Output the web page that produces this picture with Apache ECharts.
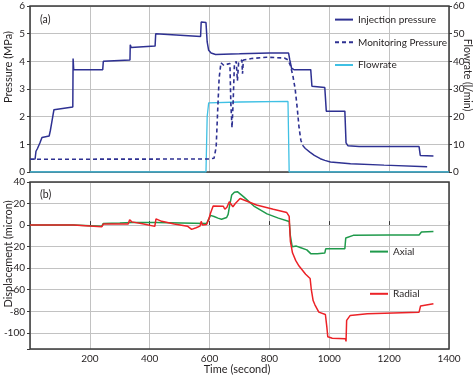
<!DOCTYPE html>
<html>
<head>
<meta charset="utf-8">
<script src="https://cdn.jsdelivr.net/npm/echarts@6/dist/echarts.min.js"></script>
<style>
  html, body { margin: 0; padding: 0; background: #fff; }
  #chart { width: 474px; height: 376px; }
</style>
</head>
<body>
<div id="chart"></div>
<script>
// time in seconds, value
var injection = [[0,0.46],[17,0.47],[20,0.75],[25,0.85],[33,1.05],[40,1.25],[45,1.3],[64,1.3],[68,1.5],[72,1.75],[76,2.0],[80,2.25],
  [143,2.35],[144,4.1],[146,3.7],[243,3.7],[245,4.0],[334,4.05],[335,4.6],[338,4.5],[418,4.55],[420,5.0],[570,4.9],[572,5.42],
  [588,5.4],[592,4.7],[597,4.4],[605,4.3],[620,4.25],[700,4.27],[800,4.3],[864,4.3],[868,4.05],[874,3.75],[882,3.7],[938,3.7],
  [942,3.1],[985,3.05],[990,2.2],[1052,2.2],[1056,1.05],[1062,0.95],[1100,0.92],[1300,0.92],[1304,0.6],[1348,0.58]];

var monitoring = [[0,0.46],[600,0.47],[615,0.5],[622,0.9],[627,2.2],[632,3.4],[638,3.95],[644,4.0],[648,3.85],[660,3.9],[668,3.92],
  [671,2.5],[675,1.6],[679,2.6],[683,3.9],[689,4.0],[693,3.3],[697,3.95],[708,4.05],[710,3.55],[713,4.05],[740,4.1],[790,4.15],
  [850,4.12],[862,4.05],[870,3.85],[878,3.5],[886,3.0],[893,2.3],[899,1.6],[905,1.15],[912,0.95]];

var monitoringTail = [[912,0.95],[920,0.85],[935,0.72],[950,0.6],[970,0.48],[985,0.42],[1004,0.36],[1071,0.3],[1183,0.25],[1327,0.19]];

var flowrate = [[0,0],[588,0],[592,20],[597,25],[700,25.3],[862,25.5],[866,0],[1400,0]];

var axial = [[0,0],[145,0],[147,-1],[240,-1],[245,1.5],[300,2],[340,2.5],[420,2.5],[425,1.5],[590,1.5],[598,6],[603,9],[615,8],
  [628,6.5],[640,5.5],[657,7],[662,10],[667,18],[674,28],[683,30.5],[693,31],[700,29.5],[715,26],[748,17.7],[792,10.4],[830,6.5],
  [866,3.3],[870,-10],[876,-20],[890,-19.5],[905,-21],[925,-23],[938,-26.5],[960,-26.5],[985,-26],[988,-22],[1052,-22],[1055,-12],
  [1060,-10.5],[1080,-9.5],[1200,-9.3],[1300,-9.2],[1308,-6.5],[1348,-6]];

var radial = [[0,0],[145,0],[147,-1.2],[240,-1.5],[245,1],[328,1],[333,5],[340,3],[380,1],[417,-1.2],[421,5.8],[440,3.5],[482,1],
  [526,-1],[540,-4],[555,-2.5],[568,-1],[572,3.5],[576,0],[590,0.6],[598,6],[603,11],[612,17.7],[646,17.5],[651,14.7],[658,16.5],
  [666,21.7],[671,23],[678,17],[686,20],[702,24.7],[757,18.6],[813,14.7],[858,11.6],[866,8],[870,-15],[877,-25.7],[888,-33],
  [899,-38],[921,-45.6],[936,-49.6],[940,-60],[946,-70],[952,-74],[965,-80.8],[987,-83],[992,-95],[995,-103.7],[1010,-105],
  [1054,-105.5],[1056,-108],[1058,-88.4],[1070,-83.8],[1127,-82.3],[1300,-80.8],[1305,-75],[1348,-73]];

var font = 'Lato, "Open Sans", sans-serif';
var navy = '#2e3192';
var gridColor = '#c2c2c2';

var axisText = { color: '#231f20', fontSize: 10, fontFamily: font };

var option = {
  animation: false,
  grid: [
    { left: 30, top: 6, width: 419, height: 166, show: true, borderColor: '#3a3a3a', borderWidth: 1.5, backgroundColor: 'transparent', z: 1 },
    { left: 30, top: 182, width: 419, height: 167, show: true, borderColor: '#3a3a3a', borderWidth: 1.5, backgroundColor: 'transparent', z: 1 }
  ],
  legend: [{
    orient: 'vertical',
    left: 334,
    top: 14,
    padding: 0,
    itemWidth: 18,
    itemHeight: 14,
    itemGap: 11.5,
    itemStyle: { opacity: 0 },
    data: ['Injection pressure', 'Monitoring Pressure', 'Flowrate'],
    textStyle: { color: '#231f20', fontSize: 10, fontFamily: font }
  }, {
    orient: 'vertical',
    left: 369,
    top: 246,
    padding: 0,
    itemWidth: 18,
    itemHeight: 14,
    itemGap: 31,
    itemStyle: { opacity: 0 },
    data: ['Axial', 'Radial'],
    textStyle: { color: '#231f20', fontSize: 10, fontFamily: font }
  }],
  xAxis: [{
    gridIndex: 0,
    type: 'value',
    min: 0, max: 1400, interval: 200,
    axisLine: { show: false },
    axisTick: { show: false },
    axisLabel: { show: false },
    splitLine: { lineStyle: { color: gridColor } }
  }, {
    gridIndex: 1,
    type: 'value',
    min: 0, max: 1400, interval: 200,
    axisLine: { show: false },
    axisTick: { inside: true, length: 4, lineStyle: { color: '#3a3a3a' } },
    axisLabel: Object.assign({ margin: 5, formatter: function (v) { return v === 0 ? '' : v; } }, axisText),
    splitLine: { lineStyle: { color: gridColor } }
  }],
  yAxis: [{
    gridIndex: 0,
    type: 'value',
    min: 0, max: 6, interval: 1,
    axisLine: { show: false },
    axisTick: { show: true, length: 3, lineStyle: { color: '#3a3a3a' } },
    axisLabel: Object.assign({ margin: 5 }, axisText),
    splitLine: { lineStyle: { color: gridColor } }
  }, {
    gridIndex: 0,
    type: 'value',
    position: 'right',
    min: 0, max: 60, interval: 10,
    axisLine: { show: false },
    axisTick: { show: true, length: 3, lineStyle: { color: '#3a3a3a' } },
    axisLabel: Object.assign({ margin: 4 }, axisText),
    splitLine: { show: false }
  }, {
    gridIndex: 1,
    type: 'value',
    min: -115, max: 40, splitNumber: 8,
    axisLine: { show: false },
    axisTick: { show: true, length: 3, lineStyle: { color: '#3a3a3a' } },
    axisLabel: Object.assign({ margin: 5, formatter: function (v) { return v % 20 === 0 ? v : ''; } }, axisText),
    splitLine: { lineStyle: { color: gridColor } }
  }],
  graphic: [
    { type: 'text', left: 40, top: 14, style: { text: '(a)', fontSize: 10.5, fontFamily: font, fill: '#231f20' } },
    { type: 'text', left: 40, top: 189, style: { text: '(b)', fontSize: 10.5, fontFamily: font, fill: '#231f20' } },
    { type: 'text', x: 8, y: 67, rotation: Math.PI / 2, style: { text: 'Pressure (MPa)', align: 'center', verticalAlign: 'middle', fontSize: 11, fontFamily: font, fill: '#231f20' } },
    { type: 'text', x: 8, y: 254, rotation: Math.PI / 2, style: { text: 'Displacement (micron)', align: 'center', verticalAlign: 'middle', fontSize: 11, fontFamily: font, fill: '#231f20' } },
    { type: 'text', x: 467, y: 75, rotation: -Math.PI / 2, style: { text: 'Flowrate (l/min)', align: 'center', verticalAlign: 'middle', fontSize: 10.5, fontFamily: font, fill: '#231f20' } },
    { type: 'text', x: 237, y: 369, style: { text: 'Time (second)', align: 'center', verticalAlign: 'middle', fontSize: 11, fontFamily: font, fill: '#231f20' } }
  ],
  series: [{
    name: 'Flowrate',
    type: 'line',
    xAxisIndex: 0, yAxisIndex: 1,
    symbol: 'none',
    lineStyle: { color: '#3fc0e4', width: 1.3 },
    itemStyle: { color: '#3fc0e4' },
    data: flowrate
  }, {
    name: 'Monitoring Pressure',
    type: 'line',
    xAxisIndex: 0, yAxisIndex: 0,
    symbol: 'none',
    lineStyle: { color: navy, width: 1.6, type: [4, 3] },
    itemStyle: { color: navy },
    data: monitoring
  }, {
    name: 'monitoring tail',
    type: 'line',
    xAxisIndex: 0, yAxisIndex: 0,
    symbol: 'none',
    lineStyle: { color: navy, width: 1.4 },
    itemStyle: { color: navy },
    data: monitoringTail
  }, {
    name: 'Injection pressure',
    type: 'line',
    xAxisIndex: 0, yAxisIndex: 0,
    symbol: 'none',
    lineStyle: { color: navy, width: 1.5 },
    itemStyle: { color: navy },
    data: injection
  }, {
    name: 'Axial',
    type: 'line',
    xAxisIndex: 1, yAxisIndex: 2,
    symbol: 'none',
    lineStyle: { color: '#1f9a4b', width: 1.5 },
    itemStyle: { color: '#1f9a4b' },
    data: axial
  }, {
    name: 'Radial',
    type: 'line',
    xAxisIndex: 1, yAxisIndex: 2,
    symbol: 'none',
    lineStyle: { color: '#ec2227', width: 1.5 },
    itemStyle: { color: '#ec2227' },
    data: radial
  }]
};

echarts.init(document.getElementById('chart')).setOption(option);
</script>
</body>
</html>
